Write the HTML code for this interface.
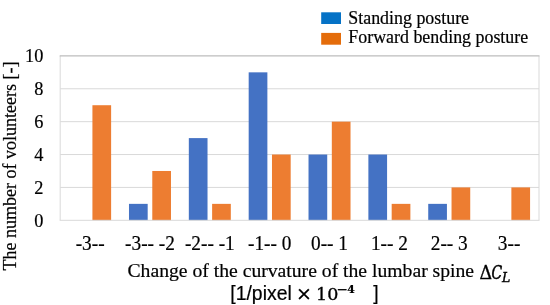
<!DOCTYPE html>
<html><head><meta charset="utf-8">
<style>
html,body{margin:0;padding:0;background:#fff;}
body{width:550px;height:305px;overflow:hidden;}
svg{display:block;}
</style></head><body>
<svg width="550" height="305" viewBox="0 0 550 305">
<rect width="550" height="305" fill="#fff"/>
<g stroke="#d9d9d9" stroke-width="1" fill="none">
<line x1="60.2" y1="187.42" x2="539.0" y2="187.42"/>
<line x1="60.2" y1="154.54" x2="539.0" y2="154.54"/>
<line x1="60.2" y1="121.66" x2="539.0" y2="121.66"/>
<line x1="60.2" y1="88.78" x2="539.0" y2="88.78"/>
<line x1="60.2" y1="55.9" x2="60.2" y2="220.3"/>
<line x1="539.0" y1="55.9" x2="539.0" y2="220.3"/>
</g>
<line x1="59.7" y1="55.9" x2="539.5" y2="55.9" stroke="#bdbdbd" stroke-width="1.3"/>
<rect x="92.42" y="105.22" width="18.7" height="115.08" fill="#ed7d31"/>
<rect x="128.98" y="203.86" width="18.7" height="16.44" fill="#4472c4"/>
<rect x="152.28" y="170.98" width="18.7" height="49.32" fill="#ed7d31"/>
<rect x="188.82" y="138.10" width="18.7" height="82.20" fill="#4472c4"/>
<rect x="212.12" y="203.86" width="18.7" height="16.44" fill="#ed7d31"/>
<rect x="248.68" y="72.34" width="18.7" height="147.96" fill="#4472c4"/>
<rect x="271.98" y="154.54" width="18.7" height="65.76" fill="#ed7d31"/>
<rect x="308.52" y="154.54" width="18.7" height="65.76" fill="#4472c4"/>
<rect x="331.82" y="121.66" width="18.7" height="98.64" fill="#ed7d31"/>
<rect x="368.38" y="154.54" width="18.7" height="65.76" fill="#4472c4"/>
<rect x="391.68" y="203.86" width="18.7" height="16.44" fill="#ed7d31"/>
<rect x="428.23" y="203.86" width="18.7" height="16.44" fill="#4472c4"/>
<rect x="451.53" y="187.42" width="18.7" height="32.88" fill="#ed7d31"/>
<rect x="511.38" y="187.42" width="18.7" height="32.88" fill="#ed7d31"/>
<line x1="59.7" y1="220.3" x2="539.5" y2="220.3" stroke="#d9d9d9" stroke-width="1"/>
<rect x="321.2" y="12.3" width="19.8" height="11.7" fill="#0572c6"/>
<rect x="321.2" y="32.9" width="19.8" height="11.8" fill="#e46c0a"/>
<g fill="#000" stroke="#000" stroke-width="0.2">
<text transform="translate(43.30 226.60) scale(1 1.05)" font-family="Liberation Serif, serif" font-size="18.3" text-anchor="end" >0</text>
<text transform="translate(43.30 193.72) scale(1 1.05)" font-family="Liberation Serif, serif" font-size="18.3" text-anchor="end" >2</text>
<text transform="translate(43.30 160.84) scale(1 1.05)" font-family="Liberation Serif, serif" font-size="18.3" text-anchor="end" >4</text>
<text transform="translate(43.30 127.96) scale(1 1.05)" font-family="Liberation Serif, serif" font-size="18.3" text-anchor="end" >6</text>
<text transform="translate(43.30 95.08) scale(1 1.05)" font-family="Liberation Serif, serif" font-size="18.3" text-anchor="end" >8</text>
<text transform="translate(43.30 62.20) scale(1 1.05)" font-family="Liberation Serif, serif" font-size="18.3" text-anchor="end" >10</text>
<text transform="translate(90.12 249.80) scale(1 1.05)" font-family="Liberation Serif, serif" font-size="19.3" text-anchor="middle" xml:space="preserve">-3--</text>
<text transform="translate(149.98 249.80) scale(1 1.05)" font-family="Liberation Serif, serif" font-size="19.3" text-anchor="middle" xml:space="preserve">-3-- -2</text>
<text transform="translate(209.82 249.80) scale(1 1.05)" font-family="Liberation Serif, serif" font-size="19.3" text-anchor="middle" xml:space="preserve">-2-- -1</text>
<text transform="translate(269.68 249.80) scale(1 1.05)" font-family="Liberation Serif, serif" font-size="19.3" text-anchor="middle" xml:space="preserve">-1-- 0</text>
<text transform="translate(329.52 249.80) scale(1 1.05)" font-family="Liberation Serif, serif" font-size="19.3" text-anchor="middle" xml:space="preserve">0-- 1</text>
<text transform="translate(389.38 249.80) scale(1 1.05)" font-family="Liberation Serif, serif" font-size="19.3" text-anchor="middle" xml:space="preserve">1-- 2</text>
<text transform="translate(449.23 249.80) scale(1 1.05)" font-family="Liberation Serif, serif" font-size="19.3" text-anchor="middle" xml:space="preserve">2-- 3</text>
<text transform="translate(509.07 249.80) scale(1 1.05)" font-family="Liberation Serif, serif" font-size="19.3" text-anchor="middle" xml:space="preserve">3--</text>
<text transform="translate(348.30 23.80) scale(1 1.05)" font-family="Liberation Serif, serif" font-size="17.9" text-anchor="start" >Standing posture</text>
<text transform="translate(348.30 42.80) scale(1 1.05)" font-family="Liberation Serif, serif" font-size="17.9" text-anchor="start" >Forward bending posture</text>
<text transform="translate(127.50 277.00) scale(1 1.0)" font-family="Liberation Serif, serif" font-size="19.66" text-anchor="start" >Change of the curvature of the lumbar spine</text>
<text transform="translate(479.60 278.50) scale(0.95 1.0)" font-family="DejaVu Serif, serif" font-size="18.4" text-anchor="start" stroke-width="0.4">&#916;</text>
<text transform="translate(491.40 278.50) scale(0.76 1.0)" font-family="DejaVu Serif, serif" font-size="18.4" text-anchor="start" font-style="italic" stroke-width="0.5">C</text>
<text transform="translate(502.00 282.00) scale(1 1.0)" font-family="DejaVu Serif, serif" font-size="12.5" text-anchor="start" font-style="italic" stroke-width="0.4">L</text>
<text transform="translate(230.30 299.60) scale(1 1.0)" font-family="Liberation Sans, serif" font-size="19.4" text-anchor="start" >[1/pixel</text>
<text transform="translate(296.00 300.30) scale(1 1.0)" font-family="DejaVu Serif, serif" font-size="19.0" text-anchor="start" >&#215;</text>
<text transform="translate(316.00 299.80) scale(1 1.0)" font-family="DejaVu Serif, serif" font-size="17.5" text-anchor="start" stroke-width="0.35">10</text>
<text transform="translate(336.60 293.60) scale(1 1.0)" font-family="DejaVu Sans, serif" font-size="13.6" text-anchor="start" >&#8722;</text>
<text transform="translate(347.20 293.30) scale(1 1.0)" font-family="DejaVu Serif, serif" font-size="10.8" text-anchor="start" font-weight="bold">4</text>
<text transform="translate(373.30 299.60) scale(1 1.0)" font-family="Liberation Sans, serif" font-size="19.4" text-anchor="start" >]</text>
<text transform="translate(16.00 166.00) rotate(-90)" font-family="Liberation Serif, serif" font-size="18.0" text-anchor="middle">The number of volunteers [-]</text>
</g>
</svg>
</body></html>
